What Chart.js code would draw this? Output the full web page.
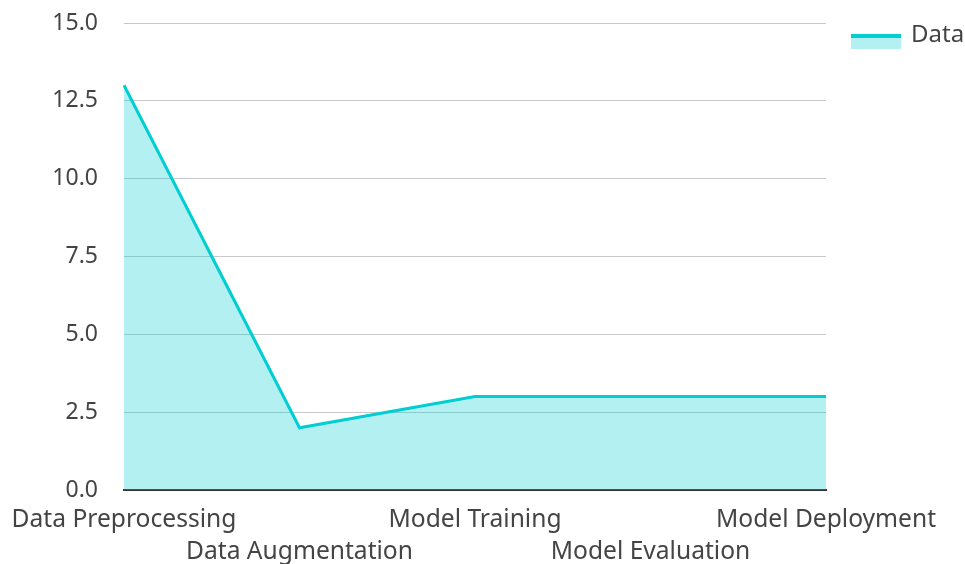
<!DOCTYPE html>
<html>
<head>
<meta charset="utf-8">
<script src="https://cdn.jsdelivr.net/npm/chart.js@4"></script>
<style>
  html, body { margin: 0; padding: 0; background: #ffffff; }
  #wrap { width: 965px; height: 564px; position: relative; }
</style>
</head>
<body>
<div id="wrap"><canvas id="chart"></canvas></div>
<script>
// Pipeline stages and their values
const categories = ['Data Preprocessing', 'Data Augmentation', 'Model Training', 'Model Evaluation', 'Model Deployment'];
const values = [13, 2, 3, 3, 3];
const seriesName = 'Data';
const yTicks = [0, 2.5, 5, 7.5, 10, 12.5, 15];

const lineColor = '#00CED1';
const fillColor = 'rgba(0, 206, 209, 0.3)';
const textColor = '#444444';
const fontFamily = '"Noto Sans", "Open Sans", sans-serif';

// Legend swatch: thick line on top of a filled band, sitting slightly low
function makeSwatch() {
  const c = document.createElement('canvas');
  c.width = 63; c.height = 28;
  const g = c.getContext('2d');
  g.fillStyle = fillColor;
  g.fillRect(13, 17, 50, 11);
  g.fillStyle = lineColor;
  g.fillRect(13, 13, 50, 4);
  return c;
}
const swatch = makeSwatch();

new Chart(document.getElementById('chart'), {
  type: 'line',
  data: {
    labels: categories,
    datasets: [{
      label: seriesName,
      data: values,
      borderColor: lineColor,
      backgroundColor: fillColor,
      borderWidth: 3,
      fill: 'origin',
      pointRadius: 0,
      pointHoverRadius: 0,
      tension: 0,
      pointStyle: swatch
    }]
  },
  options: {
    responsive: true,
    maintainAspectRatio: false,
    animation: false,
    layout: { padding: { left: 0, right: 0, top: 9, bottom: 0 } },
    plugins: {
      tooltip: { enabled: false },
      legend: {
        position: 'right',
        align: 'start',
        maxWidth: 139,
        labels: {
          usePointStyle: true,
          pointStyleWidth: 59,
          boxHeight: 28,
          padding: 14,
          color: textColor,
          font: { family: fontFamily, size: 24 }
        }
      }
    },
    scales: {
      x: {
        offset: false,
        grid: { display: false, drawTicks: false },
        border: { display: true, color: '#333333', width: 2 },
        afterFit: function (scale) {
          scale.height = 74;
          scale.paddingLeft = 0;
          scale.paddingRight = 0;
        },
        ticks: {
          autoSkip: false,
          maxRotation: 0,
          minRotation: 0,
          padding: 14,
          color: textColor,
          font: { family: fontFamily, size: 24.6, lineHeight: 1.3 },
          callback: function (value, index) {
            const label = categories[index];
            return index % 2 === 1 ? ['', label] : label;
          }
        }
      },
      y: {
        min: 0,
        max: 15,
        afterBuildTicks: function (scale) {
          scale.ticks = yTicks.map(v => ({ value: v }));
        },
        afterFit: function (scale) {
          scale.width = 124;
          scale.paddingTop = 23;
          scale.paddingBottom = 14;
        },
        grid: { color: '#c8c8c8', lineWidth: 1, drawTicks: false },
        border: { display: false },
        ticks: {
          padding: 26,
          color: textColor,
          font: { family: fontFamily, size: 23 },
          callback: function (value) { return Number(value).toFixed(1); }
        }
      }
    }
  }
});
</script>
</body>
</html>
